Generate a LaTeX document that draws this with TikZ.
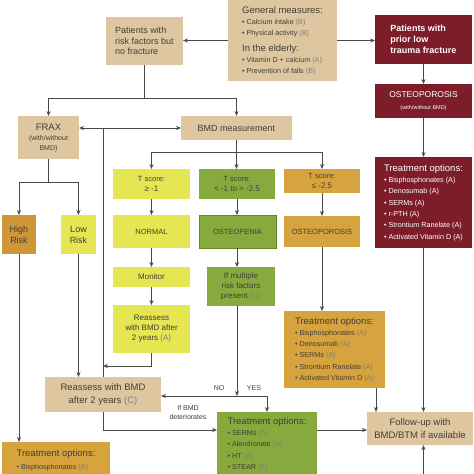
\documentclass[tikz,border=0pt]{standalone}
\usepackage{fontspec}
\setmainfont{Liberation Sans}
\usetikzlibrary{arrows.meta}
\definecolor{tanc}{RGB}{222,199,160}
\definecolor{maroonc}{RGB}{125,29,41}
\definecolor{ylwc}{RGB}{228,230,82}
\definecolor{grnc}{RGB}{134,170,62}
\definecolor{grndc}{RGB}{98,135,40}
\definecolor{orgc}{RGB}{214,163,62}
\definecolor{orgdc}{RGB}{207,150,56}
\definecolor{txtc}{RGB}{68,62,56}
\definecolor{gradec}{RGB}{125,125,125}
\definecolor{linec}{RGB}{72,72,72}
\newcommand\grd[1]{{\color{gradec}#1}}
\newcommand\fs[2]{\fontsize{#1}{#2}\selectfont}
\begin{document}
\begin{tikzpicture}[x=1pt,y=-1pt,
  boxbase/.style={inner sep=0pt, outer sep=0pt, align=center, text=txtc},
  tanbox/.style={boxbase, fill=tanc},
  redbox/.style={boxbase, fill=maroonc, text=white},
  ylwbox/.style={boxbase, fill=ylwc},
  grnbox/.style={boxbase, fill=grnc},
  orgbox/.style={boxbase, fill=orgc},
  lbl/.style={inner sep=0pt, text=txtc, font=\fs{7}{9}, align=center},
  conn/.style={draw=linec, line width=0.8pt, -{Stealth[length=5pt,width=4pt]}},
  conntwo/.style={draw=linec, line width=0.8pt, {Stealth[length=5pt,width=4pt]}-{Stealth[length=5pt,width=4pt]}},
  plain/.style={draw=linec, line width=0.8pt}]
\useasboundingbox[fill=white] (0,0) rectangle (474,474);

% nodes
\node[tanbox, minimum width=77pt, minimum height=48pt, align=left, font=\fs{9}{10.5}] (risk) at (144.5,41) {Patients with\\risk factors but\\no fracture};
\node[tanbox, minimum width=109pt, minimum height=81pt, align=left, font=\fs{7.2}{11}] (gen) at (282.5,40.5)
 {{\fs{9.5}{11}General measures:}\\
  • Calcium intake \grd{(B)}\\
  • Physical activity \grd{(B)}\\[5pt]
  {\fs{9.5}{11}In the elderly:}\\
  • Vitamin D + calcium \grd{(A)}\\
  • Prevention of falls \grd{(B)}};
\node[redbox, minimum width=97pt, minimum height=49pt, align=left, font=\bfseries\fs{9}{11}] (prior) at (423.5,39.5) {Patients with\\prior low\\trauma fracture};
\node[redbox, minimum width=97pt, minimum height=34pt] (osteoR) at (423.5,101) {{\fs{8.5}{10}OSTEOPOROSIS}\\{\fs{5.5}{7}(with/without BMD)}};
\node[redbox, minimum width=97pt, minimum height=91pt, align=left, font=\fs{7.2}{11.3}] (treatR) at (423.5,202.5)
 {{\fs{9.5}{11}Treatment options:}\\
  • Bisphosphonates (A)\\
  • Denosumab (A)\\
  • SERMs (A)\\
  • r-PTH (A)\\
  • Strontium Ranelate (A)\\
  • Activated Vitamin D (A)};
\node[tanbox, minimum width=61pt, minimum height=43pt, font=\fs{7}{10}] (frax) at (48.5,137.5) {{\fs{9.5}{11}FRAX}\\(with/without\\BMD)};
\node[tanbox, minimum width=111pt, minimum height=24pt, font=\fs{9}{11}] (bmd) at (236.5,128) {BMD measurement};
\node[boxbase, fill=orgdc, minimum width=34pt, minimum height=39pt, font=\fs{9}{11}] (high) at (19,234.5) {High\\Risk};
\node[ylwbox, minimum width=35pt, minimum height=39pt, font=\fs{9}{11}] (low) at (78.5,234.5) {Low\\Risk};
\node[ylwbox, minimum width=77pt, minimum height=30pt, font=\fs{7.5}{10}] (tY) at (151.5,184) {T score:\\{\fs{8}{10}≥ -1}};
\node[grnbox, minimum width=76pt, minimum height=30pt, font=\fs{7.5}{10}] (tG) at (237,184) {T score:\\{\fs{8}{10}< -1 to > -2.5}};
\node[orgbox, minimum width=76pt, minimum height=24pt, font=\fs{7.5}{10}] (tO) at (322,181) {T score:\\{\fs{8}{10}≤ -2.5}};
\node[ylwbox, minimum width=77pt, minimum height=33pt, font=\fs{7.5}{9}] (normal) at (151.5,231.5) {NORMAL};
\node[grnbox, draw=grndc, line width=1pt, minimum width=77pt, minimum height=33pt, font=\fs{7.5}{9}] (openia) at (237.5,231.5) {OSTEOPENIA};
\node[orgbox, minimum width=76pt, minimum height=31pt, font=\fs{7.5}{9}] (oporo) at (322,231.5) {OSTEOPOROSIS};
\node[ylwbox, minimum width=77pt, minimum height=20pt, font=\fs{8}{10}] (monitor) at (151.5,277) {Monitor};
\node[ylwbox, minimum width=77pt, minimum height=48pt, font=\fs{8}{10}] (reassA) at (151.5,329) {Reassess\\with BMD after\\2 years \grd{(A)}};
\node[grnbox, minimum width=68pt, minimum height=39pt, font=\fs{8}{10}] (multi) at (241,286.5) {If multiple\\risk factors\\present \grd{(C)}};
\node[orgbox, minimum width=101pt, minimum height=77pt, align=left, font=\fs{7.2}{11.2}] (oTreat) at (334.5,349.5)
 {{\fs{9.5}{11}Treatment options:}\\
  • Bisphosphonates \grd{(A)}\\
  • Denosumab \grd{(A)}\\
  • SERMs \grd{(A)}\\
  • Strontium Ranelate \grd{(A)}\\
  • Activated Vitamin D \grd{(A)}};
\node[tanbox, minimum width=116pt, minimum height=35pt, font=\fs{9.5}{13.5}] (reassC) at (103,394.5) {Reassess with BMD\\after 2 years \grd{(C)}};
\node[grnbox, minimum width=100pt, minimum height=64pt, align=left, font=\fs{7.2}{11.3}] (gTreat) at (267,444)
 {{\fs{9.5}{11}Treatment options:}\\
  • SERMs \grd{(A)}\\
  • Alendronate \grd{(A)}\\
  • HT \grd{(A)}\\
  • STEAR \grd{(A)}};
\node[tanbox, minimum width=106pt, minimum height=33pt, font=\fs{9.5}{13.5}] (follow) at (420,428.5) {Follow-up with\\BMD/BTM if available};
\node[orgbox, minimum width=108pt, minimum height=36pt, align=left, font=\fs{7.2}{13}] (bTreat) at (56,460)
 {{\fs{9.5}{11}Treatment options:}\\
  • Bisphosphonates \grd{(A)}};

% labels
\node[lbl] (no) at (219,388) {NO};
\node[lbl] (yes) at (254,388) {YES};
\node[lbl] (ifbmd) at (188,412.5) {If BMD\\deteriorates};

% junctions
\coordinate (j1) at (144.5,98);
\coordinate (j2) at (48.5,182);
\coordinate (j3) at (236.5,152);
\coordinate (j4) at (103,366);
\coordinate (j5) at (237,396);
\coordinate (j6) at (267,396);
\coordinate (j7) at (103,430);
\coordinate (j8) at (376,0);
\coordinate (fb) at (423.5,480);

% connectors
\draw[conn] (gen.west) -- (gen.west -| risk.east);
\draw[conn] (gen.east) -- (gen.east -| prior.west);
\draw[conn] (prior) -- (osteoR);
\draw[conn] (osteoR) -- (treatR);
\draw[plain] (risk.south) -- (j1);
\draw[conn] (j1) -| (frax.north);
\draw[conn] (j1) -| (bmd.north);
\draw[conntwo] (frax.east |- bmd.west) -- (bmd.west);
\draw[plain] (reassC.north) -- (reassC.north |- bmd.west);
\draw[plain] (frax.south) -- (j2);
\draw[conn] (j2) -| (high.north);
\draw[conn] (j2) -| (low.north);
\draw[conn] (high.south) -- (high.south |- bTreat.north);
\draw[conn] (low.south) -- (low.south |- reassC.north);
\draw[plain] (bmd.south) -- (j3);
\draw[conn] (j3) -| (tY.north);
\draw[conn] (j3) -- (j3 |- tG.north);
\draw[conn] (j3) -| (tO.north);
\draw[conn] (tY) -- (normal);
\draw[conn] (normal) -- (monitor);
\draw[conn] (monitor) -- (reassA);
\draw[conn] (tG.south) -- (tG.south |- openia.north);
\draw[conn] (openia.south -| j5) -- (multi.north -| j5);
\draw[conn] (tO) -- (oporo);
\draw[conn] (oporo.south) -- (oporo.south |- oTreat.north);
\draw[conn] (reassA.south) |- (j4);
\draw[conn] (multi.south -| j5) -- (j5);
\draw[conn] (j6) -- (reassC.east |- j6);
\draw[conn] (j6) -- (gTreat.north -| j6);
\draw[conn] (reassC.south) |- (gTreat.west |- j7);
\draw[conn] (gTreat.east |- j7) -- (follow.west |- j7);
\draw[conn] (oTreat.south -| j8) -- (follow.north -| j8);
\draw[conn] (treatR.south) -- (treatR.south |- follow.north);
\draw[conn] (fb) -- (fb |- follow.south);
\end{tikzpicture}
\end{document}
